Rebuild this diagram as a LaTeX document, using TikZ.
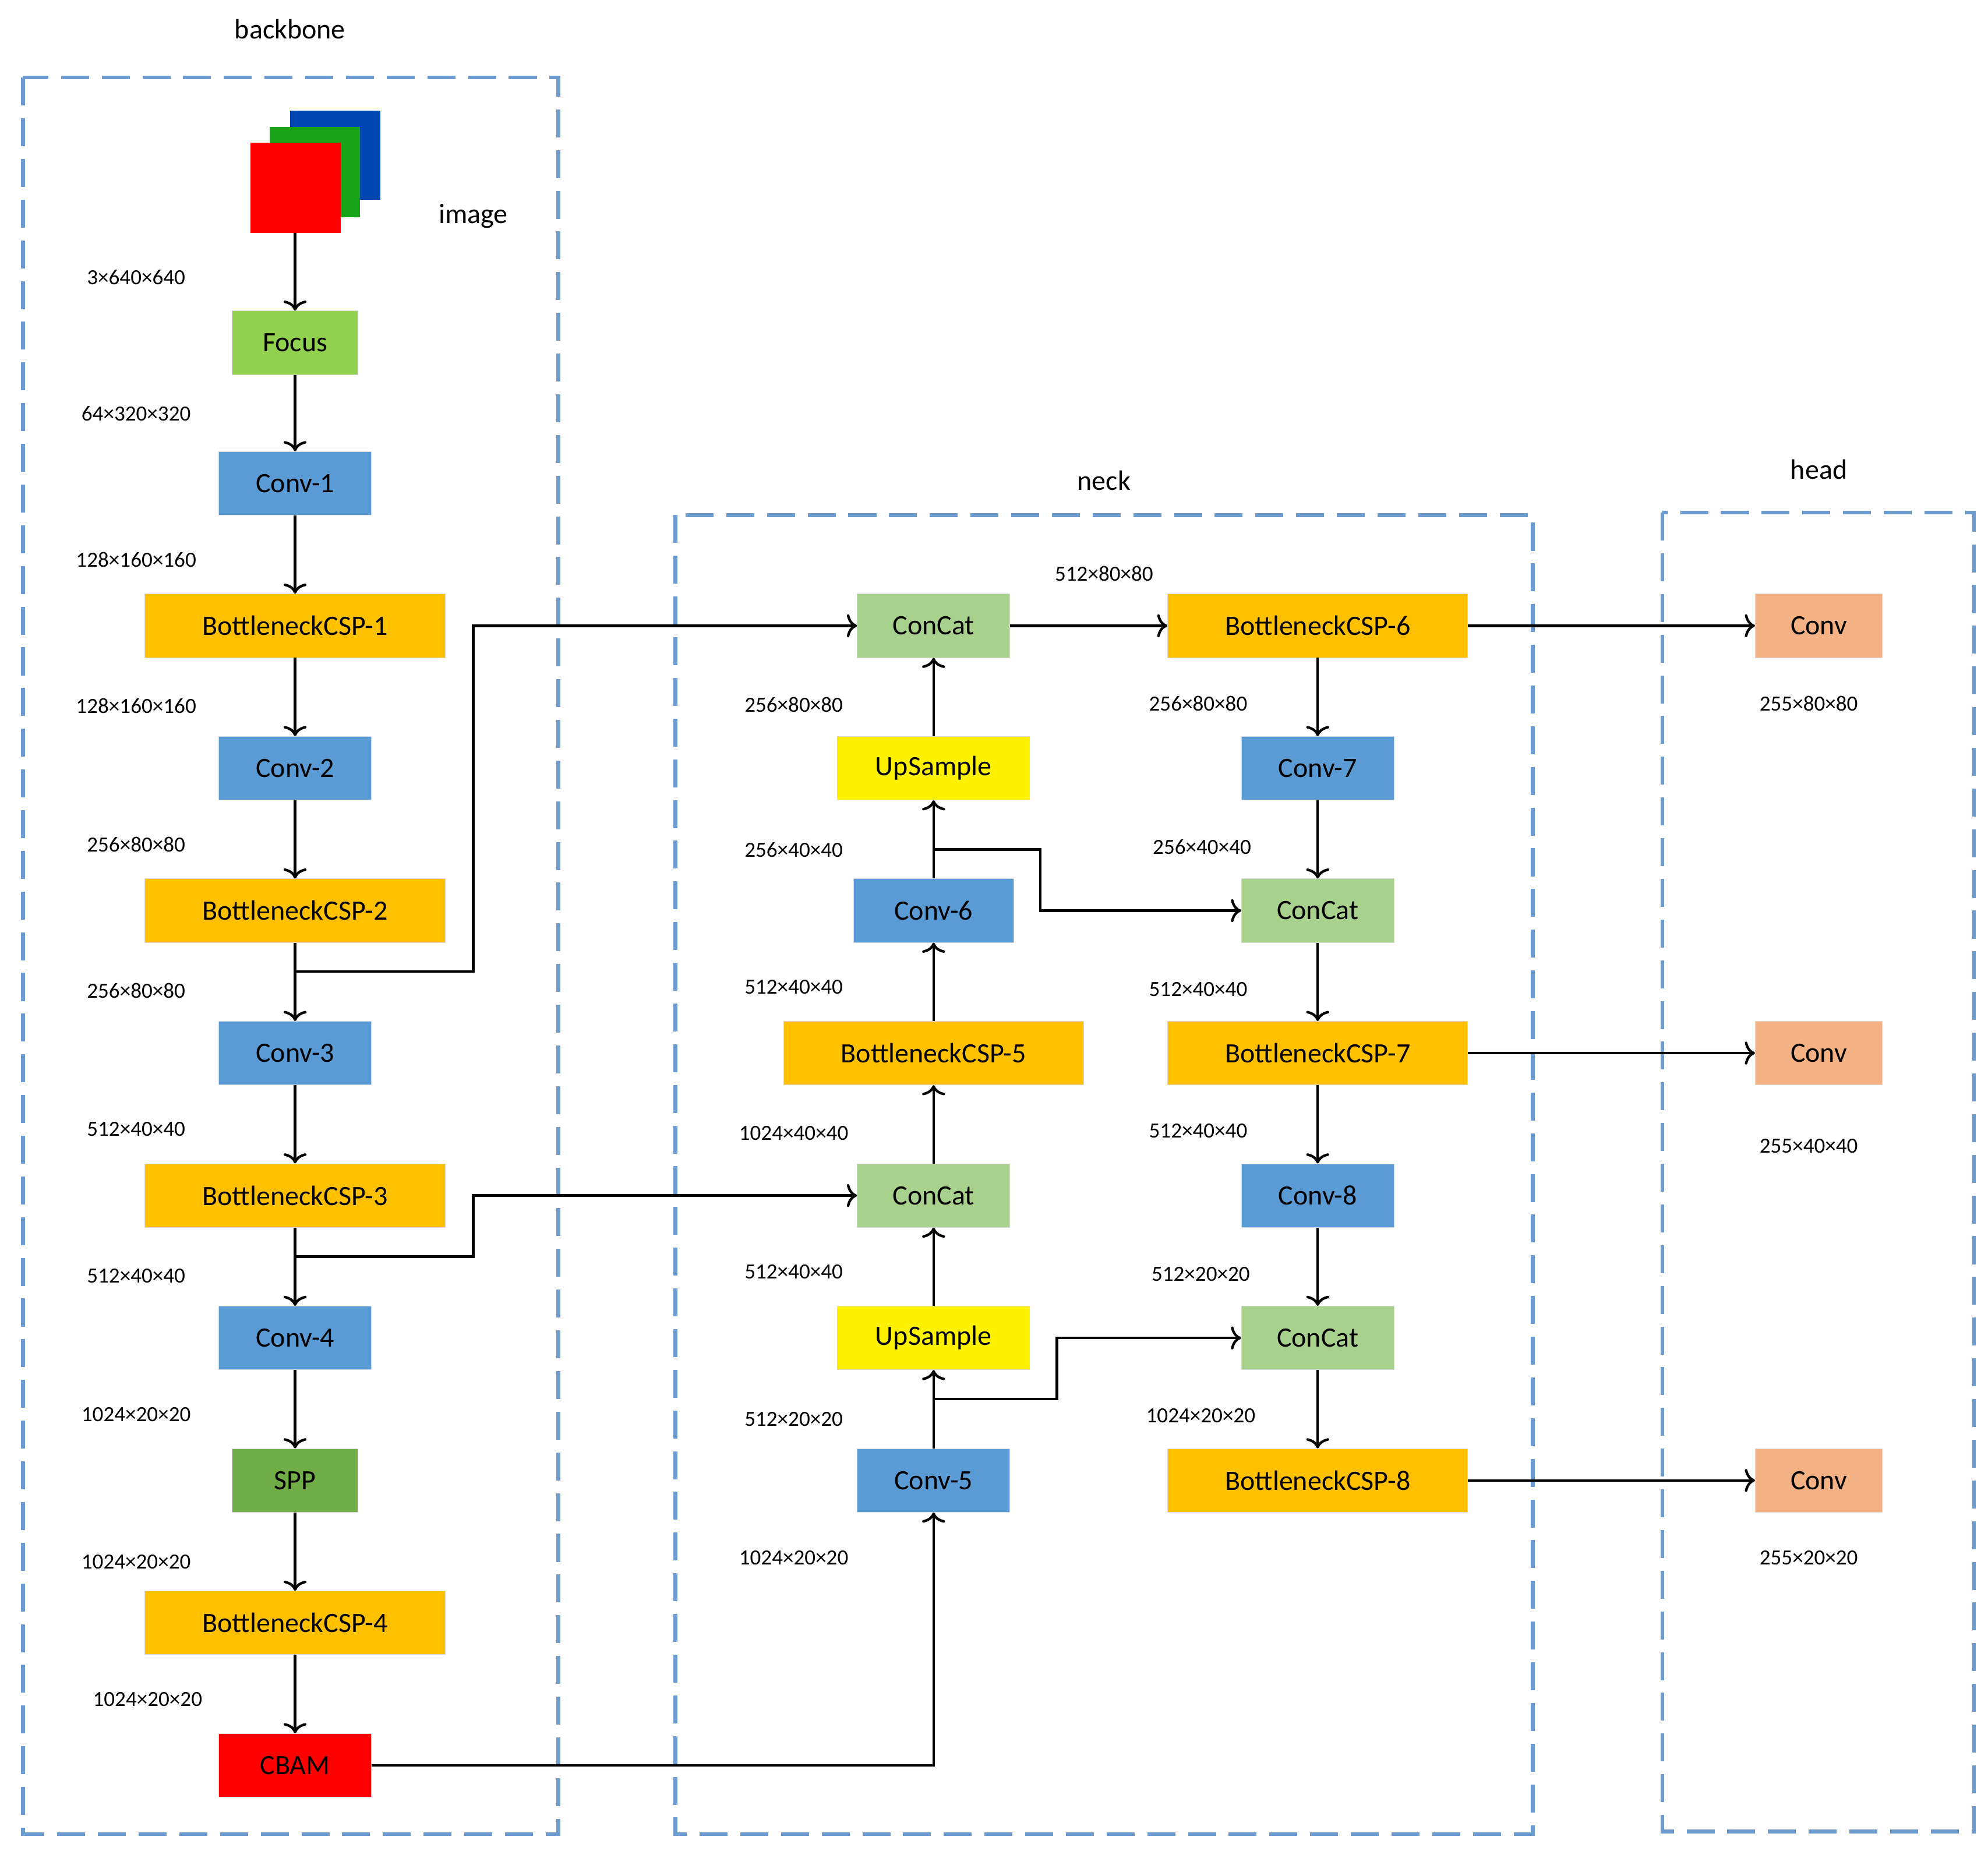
\documentclass[tikz,border=0pt]{standalone}
\usepackage{fontspec}
\setmainfont{Carlito}
\usetikzlibrary{arrows.meta}
\definecolor{cblue}{HTML}{5B9BD5}
\definecolor{corange}{HTML}{FFC000}
\definecolor{cgreen}{HTML}{A9D18E}
\definecolor{clime}{HTML}{92D050}
\definecolor{cspp}{HTML}{70AD47}
\definecolor{chead}{HTML}{F4B183}
\definecolor{cdash}{HTML}{6D9BCF}
\begin{document}
\begin{tikzpicture}[x=1pt,y=-1pt,
 box/.style={draw=black!15,inner sep=0,minimum height=50pt,font=\fontsize{22}{24}\selectfont},
 conv/.style={box,fill=cblue,minimum width=120pt},
 csp/.style={box,fill=corange,minimum width=236pt},
 cat/.style={box,fill=cgreen,minimum width=120pt},
 ups/.style={box,fill=yellow,minimum width=151pt},
 hd/.style={box,fill=chead,minimum width=100pt},
 lab/.style={font=\fontsize{17}{19}\selectfont,inner sep=0},
 ttl/.style={font=\fontsize{22}{24}\selectfont,inner sep=0},
 frame/.style={draw=cdash,line width=3pt,dash pattern=on 22pt off 10pt},
 ar/.style={draw,line width=2pt,-{To[length=8pt,width=18pt,line width=2pt]}},
 ln/.style={draw,line width=2pt}]
\useasboundingbox (0,0) rectangle (1563,1455);
\fill[white] (0,0) rectangle (1563,1455);
% frames
\draw[frame] (18,61) rectangle (439,1442);
\draw[frame] (531,405) rectangle (1205,1442);
\draw[frame] (1307,403) rectangle (1552,1440);
\node[ttl] (tb) at (228,23) {backbone};
\node[ttl] (tn) at (868,378) {neck};
\node[ttl] (th) at (1430,369) {head};
% image
\fill[blue!60!cyan!70!black] (228,87) rectangle (299,157);
\fill[green!60!black!90] (212,100) rectangle (283,171);
\fill[red] (197,112) rectangle (268,183);
\coordinate (img) at (232,183);
\node[ttl] (imgl) at (372,170) {image};
% backbone
\node[box,fill=clime,minimum width=99pt] (focus) at (232,269.5) {Focus};
\node[conv] (c1) at (232,380) {Conv-1};
\node[csp] (b1) at (232,492) {BottleneckCSP-1};
\node[conv] (c2) at (232,604) {Conv-2};
\node[csp] (b2) at (232,716) {BottleneckCSP-2};
\node[conv] (c3) at (232,828) {Conv-3};
\node[csp] (b3) at (232,940) {BottleneckCSP-3};
\node[conv] (c4) at (232,1052) {Conv-4};
\node[box,fill=cspp,minimum width=99pt] (spp) at (232,1164) {SPP};
\node[csp] (b4) at (232,1276) {BottleneckCSP-4};
\node[conv,fill=red] (cbam) at (232,1388) {CBAM};
\foreach \t/\y in {3×640×640/218,64×320×320/325,128×160×160/440,128×160×160/555,256×80×80/664,256×80×80/779,512×40×40/888,512×40×40/1003,1024×20×20/1112,1024×20×20/1228}
 \node[lab] at (107,\y) {\t};
\node[lab] at (116,1336) {1024×20×20};
\draw[ar] (img) -- (focus);
\draw[ar] (focus) -- (c1);
\draw[ar] (c1) -- (b1);
\draw[ar] (b1) -- (c2);
\draw[ar] (c2) -- (b2);
\draw[ar] (b2) -- (c3);
\draw[ar] (c3) -- (b3);
\draw[ar] (b3) -- (c4);
\draw[ar] (c4) -- (spp);
\draw[ar] (spp) -- (b4);
\draw[ar] (b4) -- (cbam);
% neck col A
\node[cat] (k1) at (734,492) {ConCat};
\node[ups] (u1) at (734,604) {UpSample};
\node[box,fill=cblue,minimum width=126pt] (c6) at (734,716) {Conv-6};
\node[csp] (b5) at (734,828) {BottleneckCSP-5};
\node[cat] (k2) at (734,940) {ConCat};
\node[ups] (u2) at (734,1052) {UpSample};
\node[conv] (c5) at (734,1164) {Conv-5};
% neck col B
\node[csp] (b6) at (1036,492) {BottleneckCSP-6};
\node[conv] (c7) at (1036,604) {Conv-7};
\node[cat] (k3) at (1036,716) {ConCat};
\node[csp] (b7) at (1036,828) {BottleneckCSP-7};
\node[conv] (c8) at (1036,940) {Conv-8};
\node[cat] (k4) at (1036,1052) {ConCat};
\node[csp] (b8) at (1036,1164) {BottleneckCSP-8};
% head
\node[hd] (h1) at (1430,492) {Conv};
\node[hd] (h2) at (1430,828) {Conv};
\node[hd] (h3) at (1430,1164) {Conv};
% labels
\foreach \t/\x/\y in {256×80×80/624/554,256×40×40/624/668,512×40×40/624/776,1024×40×40/624/891,512×40×40/624/1000,512×20×20/624/1116,1024×20×20/624/1225,512×80×80/868/451,256×80×80/942/553,256×40×40/945/666,512×40×40/942/778,512×40×40/942/889,512×20×20/944/1002,1024×20×20/944/1113,255×80×80/1422/553,255×40×40/1422/901,255×20×20/1422/1225}
 \node[lab] at (\x,\y) {\t};
% connectors
\coordinate (p1) at (232,764);
\draw[ar] (p1) -- (372,764) -- (372,492) -- (k1);
\coordinate (p2) at (232,988);
\draw[ar] (p2) -- (372,988) -- (372,940) -- (k2);
\draw[ar] (cbam) -- (734,1388) -- (c5);
\draw[ar] (c5) -- (u2);
\coordinate (p3) at (734,1100);
\draw[ar] (p3) -- (831,1100) -- (831,1052) -- (k4);
\draw[ar] (u2) -- (k2);
\draw[ar] (k2) -- (b5);
\draw[ar] (b5) -- (c6);
\draw[ar] (c6) -- (u1);
\coordinate (p4) at (734,668);
\draw[ar] (p4) -- (818,668) -- (818,716) -- (k3);
\draw[ar] (u1) -- (k1);
\draw[ar] (k1) -- (b6);
\draw[ar] (b6) -- (h1);
\draw[ar] (b6) -- (c7);
\draw[ar] (c7) -- (k3);
\draw[ar] (k3) -- (b7);
\draw[ar] (b7) -- (h2);
\draw[ar] (b7) -- (c8);
\draw[ar] (c8) -- (k4);
\draw[ar] (k4) -- (b8);
\draw[ar] (b8) -- (h3);
\end{tikzpicture}
\end{document}
